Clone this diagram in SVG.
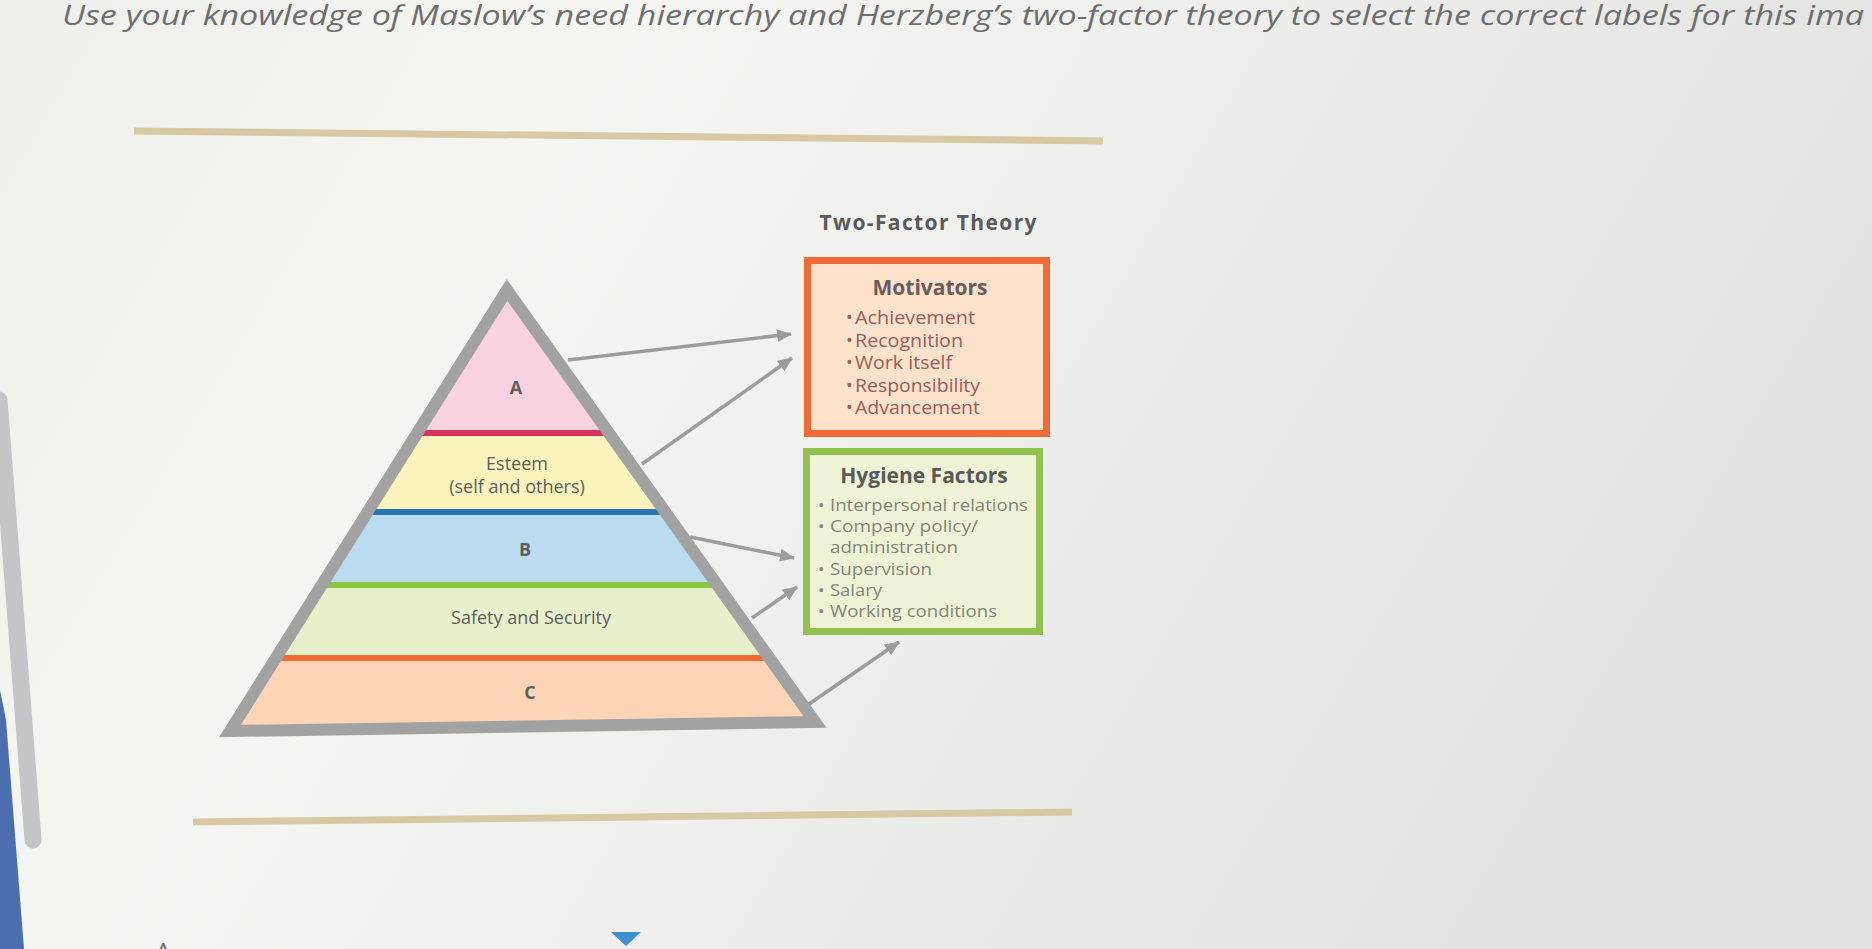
<svg xmlns="http://www.w3.org/2000/svg" width="1872" height="949" viewBox="0 0 1872 949">
<defs>
<linearGradient id="bg" x1="0" y1="0" x2="1" y2="0.3">
<stop offset="0" stop-color="#eeeeeb"/>
<stop offset="0.3" stop-color="#f5f5f2"/>
<stop offset="0.6" stop-color="#eeeeec"/>
<stop offset="1" stop-color="#e2e2e2"/>
</linearGradient>
<clipPath id="tri"><polygon points="507,290 230,731 815,722"/></clipPath>
<marker id="ah" markerUnits="userSpaceOnUse" markerWidth="15" markerHeight="13" refX="14" refY="6.5" orient="auto">
<path d="M0,0 L15,6.5 L0,13 Z" fill="#9c9c9c"/>
</marker>
<style>
.lbl{font-family:"Open Sans","Liberation Sans",sans-serif;fill:#5e5e5e;text-anchor:middle}
.big{font-weight:700;font-size:18px}
.reg{font-size:18px}
.hd{font-family:"Open Sans","Liberation Sans",sans-serif;font-weight:700;font-size:21px;text-anchor:middle}
.mv{font-family:"Open Sans","Liberation Sans",sans-serif;font-size:18px;fill:#9a5c5c}
.hy{font-family:"Open Sans","Liberation Sans",sans-serif;font-size:17px;fill:#84847a}
.conn line{stroke:#9c9c9c;stroke-width:3.5;marker-end:url(#ah)}
.band{stroke-width:6}
</style>
</defs>
<rect width="1872" height="949" fill="url(#bg)"/>

<g id="question">
<text x="62" y="25" font-family="'Open Sans','Liberation Sans',sans-serif" font-style="italic" font-size="28" fill="#6e6e6e" textLength="1802" lengthAdjust="spacingAndGlyphs">Use your knowledge of Maslow’s need hierarchy and Herzberg’s two-factor theory to select the correct labels for this ima</text>
</g>

<g id="rule-top"><line x1="134" y1="131" x2="1103" y2="141" stroke="#d6c9a4" stroke-width="7"/></g>
<g id="rule-bottom"><line x1="193" y1="822" x2="1072" y2="812" stroke="#d6c9a4" stroke-width="7"/></g>

<g id="pyramid">
<g clip-path="url(#tri)">
<rect x="200" y="280" width="650" height="153" fill="#f8d3df"/>
<rect x="200" y="433" width="650" height="79" fill="#faf3bc"/>
<rect x="200" y="512" width="650" height="73" fill="#b9ddee"/>
<rect x="200" y="585" width="650" height="73" fill="#e7f0cb"/>
<rect x="200" y="658" width="650" height="90" fill="#fbd5b6"/>
<line class="band" x1="200" y1="433" x2="850" y2="433" stroke="#d8355c"/>
<line class="band" x1="200" y1="512" x2="850" y2="512" stroke="#2a74b4"/>
<line class="band" x1="200" y1="585" x2="850" y2="585" stroke="#8cc540"/>
<line class="band" x1="200" y1="658" x2="850" y2="658" stroke="#f26b35"/>
</g>
<polygon points="507,290 230,731 815,722" fill="none" stroke="#a2a2a2" stroke-width="12" stroke-linejoin="miter"/>
</g>
<g id="level-a"><text class="lbl big" x="516" y="394">A</text></g>
<g id="level-esteem"><text class="lbl reg" x="517" y="470">Esteem</text><text class="lbl reg" x="517" y="493">(self and others)</text></g>
<g id="level-b"><text class="lbl big" x="525" y="556" fill="#666">B</text></g>
<g id="level-safety"><text class="lbl reg" x="531" y="624" fill="#707070" font-size="19">Safety and Security</text></g>
<g id="level-c"><text class="lbl big" x="530" y="699">C</text></g>

<g id="two-factor-title"><text class="hd" x="928" y="230" fill="#5a5a5a" font-weight="600" textLength="217">Two-Factor Theory</text></g>

<g id="motivators">
<rect x="807.5" y="260.5" width="239" height="173" fill="#fce2cb" stroke="#f06a38" stroke-width="7"/>
<text class="hd" x="930" y="295" fill="#6b5b5f">Motivators</text>
<text class="mv" x="846" y="324">•<tspan x="855" textLength="120" lengthAdjust="spacingAndGlyphs">Achievement</tspan></text>
<text class="mv" x="846" y="347">•<tspan x="855" textLength="108" lengthAdjust="spacingAndGlyphs">Recognition</tspan></text>
<text class="mv" x="846" y="369">•<tspan x="855" textLength="97" lengthAdjust="spacingAndGlyphs">Work itself</tspan></text>
<text class="mv" x="846" y="392">•<tspan x="855" textLength="125" lengthAdjust="spacingAndGlyphs">Responsibility</tspan></text>
<text class="mv" x="846" y="414">•<tspan x="855" textLength="125" lengthAdjust="spacingAndGlyphs">Advancement</tspan></text>
</g>

<g id="hygiene">
<rect x="806.5" y="451.5" width="233" height="180" fill="#eef3d5" stroke="#92c14f" stroke-width="7"/>
<text class="hd" x="924" y="483" fill="#5a5a5a" font-size="20">Hygiene Factors</text>
<text class="hy" x="818" y="511">•<tspan x="830" textLength="198" lengthAdjust="spacingAndGlyphs">Interpersonal relations</tspan></text>
<text class="hy" x="818" y="532">•<tspan x="830" textLength="148" lengthAdjust="spacingAndGlyphs">Company policy/</tspan></text>
<text class="hy" x="830" y="553" textLength="128" lengthAdjust="spacingAndGlyphs">administration</text>
<text class="hy" x="818" y="575">•<tspan x="830" textLength="102" lengthAdjust="spacingAndGlyphs">Supervision</tspan></text>
<text class="hy" x="818" y="596">•<tspan x="830" textLength="52" lengthAdjust="spacingAndGlyphs">Salary</tspan></text>
<text class="hy" x="818" y="617">•<tspan x="830" textLength="167" lengthAdjust="spacingAndGlyphs">Working conditions</tspan></text>
</g>

<g id="connectors" class="conn">
<line x1="568" y1="360" x2="791" y2="334"/>
<line x1="642" y1="464" x2="792" y2="358"/>
<line x1="690" y1="537" x2="794" y2="558"/>
<line x1="752" y1="618" x2="797" y2="587"/>
<line x1="809" y1="704" x2="899" y2="642"/>
</g>

<g id="page-chrome">
<polygon points="0,690 6,720 24,949 0,949" fill="#4a6eb0"/>
<line x1="-1" y1="400" x2="33" y2="840" stroke="#c3c5c7" stroke-width="17" stroke-linecap="round"/>
<polygon points="611,932 641,932 626,946" fill="#3d8fd0"/>
<text x="155" y="961" font-family="'Open Sans','Liberation Sans',sans-serif" font-size="26" fill="#6a6a6a">A</text>
</g>
</svg>
